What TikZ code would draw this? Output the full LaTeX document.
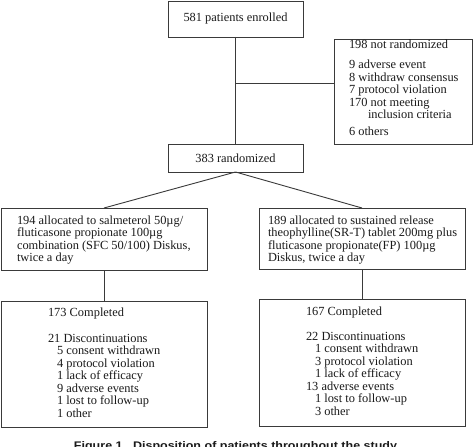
\documentclass[tikz,border=0pt]{standalone}
\usepackage{fontspec}
\setmainfont{Liberation Serif}
\newfontfamily\capfont{Liberation Sans}
\usepackage{graphicx}
\definecolor{linegray}{HTML}{3A3A3A}
\definecolor{textgray}{HTML}{1A1A1A}
\newcommand\mystrut{\rule{0pt}{9bp}}
\begin{document}
\begin{tikzpicture}[x=1bp,y=-1bp,
  box/.style={draw=linegray, line width=0.9bp, rectangle, inner sep=0pt, outer sep=0pt,
    font=\fontsize{12.4bp}{12.5bp}\selectfont, text=textgray},
  txt/.style={anchor=north west, inner sep=0pt, outer sep=0pt, align=left,
    font=\fontsize{12.4bp}{12.5bp}\selectfont, text=textgray},
  link/.style={draw=linegray, line width=0.9bp}]
\clip (0,0) rectangle (474,447);
\fill[white] (0,0) rectangle (474,447);

% boxes
\node[box, minimum width=135bp, minimum height=36bp] (enr) at (235.5,19) {581 patients enrolled};
\node[box, minimum width=138bp, minimum height=105bp] (nr) at (403,91.5) {};
\node[box, minimum width=135bp, minimum height=28bp] (rand) at (235.5,158) {383 randomized};
\node[box, minimum width=206bp, minimum height=62bp] (allocL) at (104,239) {};
\node[box, minimum width=206bp, minimum height=61bp] (allocR) at (362,238.5) {};
\node[box, minimum width=206bp, minimum height=126bp] (compL) at (104,364) {};
\node[box, minimum width=206bp, minimum height=127bp] (compR) at (362,362.5) {};

% texts
\node[txt] (nrtxt) at (349,40) {\mystrut 198 not randomized\\[7.5bp]
9 adverse event\\
8 withdraw consensus\\
7 protocol violation\\
170 not meeting\\
\hspace*{19bp}inclusion criteria\\[4.5bp]
6 others};

\node[txt] (altxt) at (17,215) {\mystrut 194 allocated to salmeterol 50µg/\\
fluticasone propionate 100µg\\
combination (SFC 50/100) Diskus,\\
twice a day};

\node[txt] (artxt) at (268,215) {\mystrut 189 allocated to sustained release\\
theophylline(SR-T) tablet 200mg plus\\
fluticasone propionate(FP) 100µg\\
Diskus, twice a day};

\node[txt] (cltxt) at (48,307) {\mystrut 173 Completed\\[13.5bp]
21 Discontinuations\\
\hspace*{9bp}5 consent withdrawn\\
\hspace*{9bp}4 protocol violation\\
\hspace*{9bp}1 lack of efficacy\\
\hspace*{9bp}9 adverse events\\
\hspace*{9bp}1 lost to follow-up\\
\hspace*{9bp}1 other};

\node[txt] (crtxt) at (306,306) {\mystrut 167 Completed\\[12.5bp]
22 Discontinuations\\
\hspace*{9bp}1 consent withdrawn\\
\hspace*{9bp}3 protocol violation\\
\hspace*{9bp}1 lack of efficacy\\
13 adverse events\\
\hspace*{9bp}1 lost to follow-up\\
\hspace*{9bp}3 other};

% connectors
\coordinate (j) at (235.5,83);
\draw[link] (enr.south) -- (rand.north);
\draw[link] (j) -- (j -| nr.west);
\draw[link] (rand.south) -- (allocL.north);
\draw[link] (rand.south) -- (allocR.north);
\draw[link] (allocL.south) -- (compL.north);
\draw[link] (allocR.south) -- (compR.north);

% caption (cut off at the bottom edge)
\node[anchor=base, inner sep=0pt, text=textgray] (cap) at (235.5,449.5)
  {\resizebox{323bp}{8bp}{\capfont\bfseries Figure 1.\ \ Disposition of patients throughout the study}};
\end{tikzpicture}
\end{document}
